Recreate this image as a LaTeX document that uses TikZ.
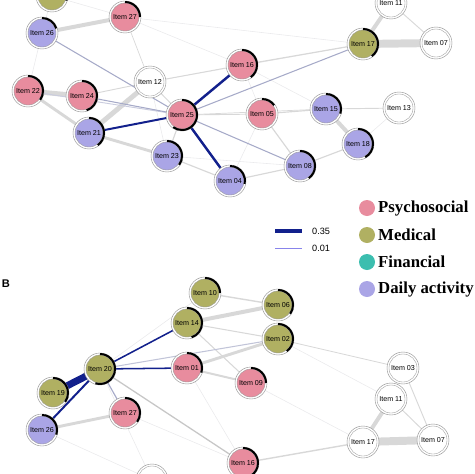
\documentclass[tikz,border=0pt]{standalone}
\usepackage{fontspec}
\setmainfont{Liberation Serif}
\setsansfont{Liberation Sans}
\usetikzlibrary{positioning}

\definecolor{psycho}{RGB}{232,140,158}
\definecolor{medic}{RGB}{176,176,98}
\definecolor{finan}{RGB}{60,190,175}
\definecolor{daily}{RGB}{170,165,230}
\definecolor{strong}{RGB}{18,32,140}
\definecolor{weak}{RGB}{216,216,216}
\definecolor{faint}{RGB}{234,234,236}
\definecolor{steel}{RGB}{166,170,200}

\pgfdeclarelayer{edgelayer}
\pgfdeclarelayer{ringlayer}
\pgfsetlayers{edgelayer,ringlayer,main}

\tikzset{
  itm/.style={circle,draw=black!40,line width=0.3pt,minimum size=0.84cm,inner sep=0pt,
    font=\sffamily\fontsize{6.1}{7}\selectfont},
  psy/.style={itm,fill=psycho},
  med/.style={itm,fill=medic},
  dly/.style={itm,fill=daily},
  non/.style={itm,fill=white},
  ring/.style={draw=black!45,line width=0.35pt,fill=white},
  load/.style={draw=black,line width=1.7pt},
  legdot/.style={circle,minimum size=0.48cm,inner sep=0pt},
  legtxt/.style={anchor=west,inner sep=0pt,font=\fontsize{14.3}{16}\selectfont\bfseries},
  wtxt/.style={anchor=west,inner sep=0pt,font=\sffamily\fontsize{7.8}{9}\selectfont}
}

\begin{document}
\begin{tikzpicture}[x=0.03cm,y=-0.03cm]
\useasboundingbox (0,0) rectangle (474,474);
\clip (0,0) rectangle (474,474);

% panel A
\node[med] (a00) at (52,-4) {};
\node[psy] (a27) at (125,17) {Item 27};
\node[dly] (a26) at (42,33) {Item 26};
\node[psy] (a22) at (28,91) {Item 22};
\node[psy] (a24) at (82,96) {Item 24};
\node[non] (a12) at (150,82) {Item 12};
\node[psy] (a25) at (182,115) {Item 25};
\node[dly] (a21) at (89,133) {Item 21};
\node[dly] (a23) at (167,156) {Item 23};
\node[psy] (a16) at (242,65) {Item 16};
\node[med] (a17) at (363,44) {Item 17};
\node[non] (a07) at (436,43) {Item 07};
\node[non] (a11) at (391,3) {Item 11};
\node[psy] (a05) at (262,114) {Item 05};
\node[dly] (a15) at (326,109) {Item 15};
\node[non] (a13) at (399,108) {Item 13};
\node[dly] (a18) at (358,144) {Item 18};
\node[dly] (a04) at (230,181) {Item 04};
\node[dly] (a08) at (300,166) {Item 08};

% panel B
\node[font=\sffamily\bfseries\fontsize{9.5}{10}\selectfont] (lblB) at (6,284) {B};
\node[med] (b10) at (205,293) {Item 10};
\node[med] (b14) at (187,323) {Item 14};
\node[med] (b20) at (100,369) {Item 20};
\node[psy] (b01) at (187,368) {Item 01};
\node[med] (b19) at (53,393) {Item 19};
\node[psy] (b27) at (125,413) {Item 27};
\node[dly] (b26) at (42,430) {Item 26};
\node[med] (b06) at (278,305) {Item 06};
\node[med] (b02) at (278,339) {Item 02};
\node[psy] (b09) at (251,383) {Item 09};
\node[non] (b03) at (403,368) {Item 03};
\node[non] (b11) at (391,399) {Item 11};
\node[non] (b17) at (363,442) {Item 17};
\node[non] (b07) at (433,440) {Item 07};
\node[psy] (b16) at (243,463) {Item 16};
\node[non] (b12) at (152,480) {};

% legend
\coordinate (w1s) at (275,231);
\coordinate (w1e) at (302,231);
\coordinate (w2s) at (275,248);
\coordinate (w2e) at (302,248);
\draw[strong,line width=3.4pt] (w1s) -- (w1e);
\draw[daily!80!blue,line width=0.6pt] (w2s) -- (w2e);
\node[wtxt] (w1) at (312,231) {0.35};
\node[wtxt] (w2) at (312,248) {0.01};
\node[legdot,fill=psycho] (g1) at (367,208) {};
\node[legdot,fill=medic] (g2) at (367,235) {};
\node[legdot,fill=finan] (g3) at (367,262) {};
\node[legdot,fill=daily] (g4) at (367,289) {};
\node[legtxt] (t1) at (378,208) {Psychosocial};
\node[legtxt] (t2) at (378,235) {Medical};
\node[legtxt] (t3) at (378,262) {Financial};
\node[legtxt] (t4) at (378,289) {Daily activity};

% rings behind the nodes
\begin{pgfonlayer}{ringlayer}
\foreach \n in {a00,a27,a26,a22,a24,a12,a25,a21,a23,a16,a17,a07,a11,a05,a15,a13,a18,a04,a08,
  b10,b14,b20,b01,b19,b27,b26,b06,b02,b09,b03,b11,b17,b07,b16,b12}
  \draw[ring] (\n.center) circle[radius=0.48cm];
\end{pgfonlayer}

% loadings
\foreach \n/\f in {a00/0.3,a27/0.25,a26/0.2,a22/0.35,a24/0.45,a25/0.6,a21/0.4,a23/0.35,a16/0.4,
  a17/0.4,a05/0.15,a15/0.3,a18/0.42,a04/0.28,a08/0.4,
  b10/0.25,b14/0.45,b20/0.55,b01/0.3,b19/0.35,b27/0.35,b26/0.3,b06/0.35,b02/0.4,b09/0.25,b16/0.55}
  \draw[load] ([shift={(90:0.45cm)}]\n.center) arc[start angle=90,end angle={90-360*\f},radius=0.45cm];

% edges
\begin{pgfonlayer}{edgelayer}
\draw[faint,line width=0.5pt] (a26) -- (a22);
\draw[faint,line width=0.5pt] (a12) -- (a23);
\draw[faint,line width=0.5pt] (a16) -- (a05);
\draw[faint,line width=0.5pt] (a27) -- (a17);
\draw[faint,line width=0.5pt] (a27) -- (a16);
\draw[faint,line width=0.5pt] (a00) -- (a26);
\draw[faint,line width=0.5pt] (a00) -- (a27);
\draw[faint,line width=0.5pt] (a13) -- (a18);
\draw[faint,line width=0.5pt] (a05) -- (a04);
\draw[faint,line width=0.5pt] (a23) -- (a08);
\draw[faint,line width=0.5pt] (a16) -- (a15);
\draw[faint,line width=0.5pt] (a12) -- (a17);
\draw[weak,line width=3.4pt] (a27) -- (a26);
\draw[weak,line width=4.2pt] (a22) -- (a24);
\draw[weak,line width=2.5pt] (a22) -- (a21);
\draw[weak,line width=4.2pt] (a21) -- (a12);
\draw[weak,line width=2.5pt] (a21) -- (a23);
\draw[weak,line width=6.8pt] (a17) -- (a07);
\draw[weak,line width=3.4pt] (a17) -- (a11);
\draw[weak,line width=3.4pt] (a15) -- (a18);
\draw[weak,line width=0.8pt] (a24) -- (a12);
\draw[weak,line width=0.8pt] (a25) -- (a12);
\draw[weak,line width=0.8pt] (a12) -- (a16);
\draw[weak,line width=1pt] (a16) -- (a17);
\draw[weak,line width=0.8pt] (a11) -- (a07);
\draw[weak,line width=1pt] (a05) -- (a15);
\draw[weak,line width=1pt] (a05) -- (a08);
\draw[weak,line width=0.8pt] (a25) -- (a05);
\draw[weak,line width=0.8pt] (a15) -- (a13);
\draw[weak,line width=1pt] (a18) -- (a08);
\draw[weak,line width=1pt] (a08) -- (a04);
\draw[weak,line width=1pt] (a23) -- (a04);
\draw[weak,line width=1pt] (a23) -- (a25);
\draw[weak,line width=0.6pt] (a27) -- (a12);
\draw[weak,line width=0.6pt] (a25) -- (a15);
\draw[steel!60,line width=0.8pt] (a22) -- (a25);
\draw[steel,line width=0.9pt] (a26) -- (a25);
\draw[steel,line width=0.9pt] (a24) -- (a25);
\draw[steel,line width=0.9pt] (a25) -- (a17);
\draw[steel,line width=0.9pt] (a25) -- (a08);
\draw[strong,line width=1.7pt] (a21) -- (a25);
\draw[strong,line width=2.1pt] (a25) -- (a16);
\draw[strong,line width=2.1pt] (a25) -- (a04);

\draw[faint,line width=0.5pt] (b20) -- (b10);
\draw[faint,line width=0.5pt] (b20) -- (b12);
\draw[faint,line width=0.5pt] (b27) -- (b16);
\draw[faint,line width=0.5pt] (b19) -- (b14);
\draw[faint,line width=0.5pt] (b26) -- (b12);
\draw[faint,line width=0.5pt] (b09) -- (b17);
\draw[faint,line width=0.5pt] (b02) -- (b11);
\draw[faint,line width=0.5pt] (b01) -- (b16);
\draw[weak,line width=3.4pt] (b14) -- (b06);
\draw[weak,line width=2.5pt] (b01) -- (b02);
\draw[weak,line width=2.5pt] (b26) -- (b27);
\draw[weak,line width=6.8pt] (b17) -- (b07);
\draw[weak,line width=3.4pt] (b17) -- (b11);
\draw[weak,line width=0.9pt] (b14) -- (b09);
\draw[weak,line width=1.2pt] (b10) -- (b06);
\draw[weak,line width=0.9pt] (b14) -- (b02);
\draw[weak,line width=1.7pt] (b01) -- (b09);
\draw[weak,line width=1.2pt] (b16) -- (b17);
\draw[weak,line width=0.8pt] (b11) -- (b07);
\draw[weak,line width=0.8pt] (b03) -- (b07);
\draw[weak,line width=0.7pt] (b02) -- (b03);
\draw[steel!70,line width=0.9pt] (b20) -- (b02);
\draw[steel,line width=1pt] (b20) -- (b27);
\draw[black!22,line width=1.1pt] (b20) -- (b16);
\draw[strong,line width=6pt] (b20) -- (b19);
\draw[strong,line width=1.7pt] (b20) -- (b26);
\draw[strong,line width=1.3pt] (b20) -- (b14);
\draw[strong,line width=1.3pt] (b20) -- (b01);
\end{pgfonlayer}
\end{tikzpicture}
\end{document}
